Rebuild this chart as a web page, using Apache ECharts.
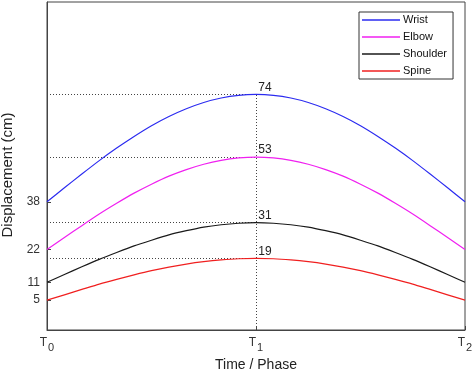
<!DOCTYPE html>
<html>
<head>
<meta charset="utf-8">
<script src="https://cdn.jsdelivr.net/npm/echarts@6/dist/echarts.min.js"></script>
<style>
  html, body { margin: 0; padding: 0; background: #fff; }
  #main { width: 474px; height: 375px; }
</style>
</head>
<body>
<div id="main"></div>
<script>
// 25 steps from T0 to T2, T1 at index 12
var steps = ['0', '', '', '', '', '', '', '', '', '', '', '', '1',
  '', '', '', '', '', '', '', '', '', '', '', '2']
var names = ['Wrist', 'Elbow', 'Shoulder', 'Spine']
var colors = ['#2b2bf0', '#f020f0', '#1a1a1a', '#f02020']
var wrist = [38, 42.7, 47.3, 51.8, 56, 59.9, 63.5, 66.6, 69.2, 71.3, 72.8, 73.7, 74,
  73.7, 72.8, 71.3, 69.2, 66.6, 63.5, 59.9, 56, 51.8, 47.3, 42.7, 38]
var elbow = [22, 26.0, 30.0, 33.9, 37.5, 40.9, 43.9, 46.6, 48.8, 50.6, 51.9, 52.7, 53,
  52.7, 51.9, 50.6, 48.8, 46.6, 43.9, 40.9, 37.5, 33.9, 30.0, 26.0, 22]
var shoulder = [11, 13.6, 16.2, 18.7, 21, 23.2, 25.1, 26.9, 28.3, 29.5, 30.3, 30.8, 31,
  30.8, 30.3, 29.5, 28.3, 26.9, 25.1, 23.2, 21, 18.7, 16.2, 13.6, 11]
var spine = [5, 6.8, 8.6, 10.4, 12, 13.5, 14.9, 16.1, 17.1, 17.9, 18.5, 18.9, 19,
  18.9, 18.5, 17.9, 17.1, 16.1, 14.9, 13.5, 12, 10.4, 8.6, 6.8, 5]
var peaks = [74, 53, 31, 19]
var yTicks = [5, 11, 22, 38]
var mid = 12

var myChart = echarts.init(document.getElementById('main'))
var allData = [wrist, elbow, shoulder, spine]
var dotted = { color: '#444', type: [1, 2], width: 1 }

var series = allData.map(function (d, i) {
  var data = d.map(function (v, k) {
    if (k !== mid) return v
    return {
      value: v,
      label: {
        show: true,
        position: 'top',
        distance: 1,
        offset: [9, 0],
        color: '#222',
        fontSize: 12
      }
    }
  })
  // dotted guides from the y axis to T1
  var guides = [[{ xAxis: 0, yAxis: peaks[i] }, { xAxis: mid, yAxis: peaks[i] }]]
  if (i === 0) {
    guides.push([{ xAxis: mid, yAxis: -5 }, { xAxis: mid, yAxis: peaks[0] }])
  }
  return {
    name: names[i],
    type: 'line',
    smooth: 0.2,
    symbol: 'circle',
    symbolSize: 0,
    showSymbol: true,
    data: data,
    lineStyle: { color: colors[i], width: 1.2 },
    itemStyle: { color: colors[i] },
    z: 3,
    markLine: {
      silent: true,
      symbol: 'none',
      label: { show: false },
      lineStyle: dotted,
      z: 1,
      data: guides
    }
  }
})

myChart.setOption({
  animation: false,
  textStyle: { fontFamily: 'Liberation Sans, Arial, sans-serif' },
  grid: {
    left: 47,
    right: 9,
    top: 2,
    bottom: 45,
    containLabel: false,
    outerBoundsMode: 'none',
    show: true,
    borderColor: '#444',
    borderWidth: 1
  },
  legend: {
    orient: 'vertical',
    left: 359,
    top: 12,
    padding: [1, 6, 1, 3],
    itemGap: 3,
    itemWidth: 38,
    itemHeight: 1.5,
    icon: 'rect',
    borderColor: '#333',
    borderWidth: 1,
    borderRadius: 0,
    backgroundColor: '#fff',
    data: names,
    textStyle: { fontSize: 11, color: '#111', padding: [0, 0, 0, -2], lineHeight: 14 }
  },
  xAxis: {
    type: 'category',
    data: steps,
    boundaryGap: false,
    name: 'Time / Phase',
    nameLocation: 'middle',
    nameGap: 27,
    nameTextStyle: { fontSize: 14, color: '#222' },
    axisLine: { onZero: false, lineStyle: { color: '#444' } },
    axisTick: { inside: true, length: 4, interval: 11, lineStyle: { color: '#444' } },
    axisLabel: {
      interval: 11,
      margin: 3,
      formatter: function (v) { return '{t|T}{s|' + v + '}' },
      rich: {
        t: { fontSize: 12, color: '#333' },
        s: { fontSize: 11, color: '#333', padding: [9, 0, 0, 1] }
      }
    },
    splitLine: { show: false }
  },
  yAxis: {
    type: 'value',
    min: -5,
    max: 105,
    name: 'Displacement (cm)',
    nameLocation: 'middle',
    nameGap: 30,
    nameTextStyle: { fontSize: 15, color: '#222', padding: [0, 0, 0, -18] },
    axisLine: { show: true, onZero: false, lineStyle: { color: '#444' } },
    axisTick: { show: true, inside: true, length: 4, customValues: yTicks, lineStyle: { color: '#444' } },
    axisLabel: { customValues: yTicks, fontSize: 12, color: '#333', margin: 7 },
    splitLine: { show: false }
  },
  series: series
})
</script>
</body>
</html>
